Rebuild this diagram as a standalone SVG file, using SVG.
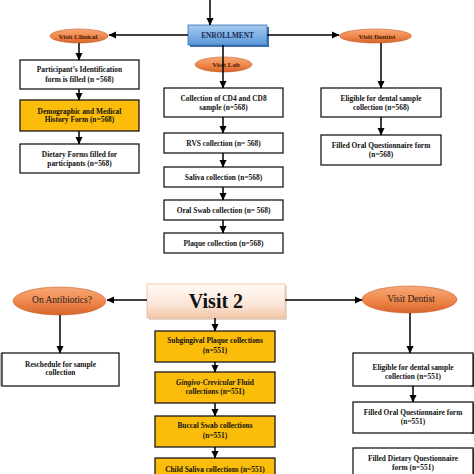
<svg xmlns="http://www.w3.org/2000/svg" width="474" height="474" viewBox="0 0 474 474">
<defs>
<linearGradient id="og" x1="0" y1="0" x2="0" y2="1"><stop offset="0" stop-color="#f9a878"/><stop offset="0.5" stop-color="#f08a4e"/><stop offset="1" stop-color="#d8642a"/></linearGradient>
<linearGradient id="bg" x1="0" y1="0" x2="0" y2="1"><stop offset="0" stop-color="#a6cbf0"/><stop offset="1" stop-color="#5b98d8"/></linearGradient>
<linearGradient id="pg" x1="0" y1="0" x2="0" y2="1"><stop offset="0" stop-color="#fffaf6"/><stop offset="0.6" stop-color="#fbe6d8"/><stop offset="1" stop-color="#f3c6a6"/></linearGradient>
<marker id="ah" markerWidth="8" markerHeight="8" refX="7" refY="4" orient="auto" markerUnits="userSpaceOnUse"><path d="M0,0.5 L7.5,4 L0,7.5 Z" fill="#000"/></marker>
</defs>
<style>
.box{fill:#fff;stroke:#1a1a1a;stroke-width:1.3}
.yel{fill:#fbbd0a}
.t{font-family:"Liberation Serif",serif;font-weight:bold;font-size:7.4px;text-anchor:middle;fill:#111}
.et{font-family:"Liberation Serif",serif;font-weight:bold;font-size:7px;text-anchor:middle;fill:#4a1a05}
.bt{font-family:"Liberation Serif",serif;font-size:9.5px;text-anchor:middle;fill:#222}
.ell{fill:url(#og);stroke:#c8622c;stroke-width:0.6}
.c{fill:none;stroke:#000;stroke-width:1.5;marker-end:url(#ah)}
</style>
<rect width="474" height="474" fill="#fff"/>

<g id="enrollment">
<rect x="190" y="27" width="79" height="20" fill="#3f6ea8"/>
<rect x="188" y="25" width="79" height="20" fill="url(#bg)" stroke="#3a72b5" stroke-width="0.8"/>
<text x="227.5" y="37.8" style="font-family:'Liberation Serif',serif;font-weight:bold;font-size:7.3px;text-anchor:middle;fill:#1a2a55">ENROLLMENT</text>
</g>
<g id="visit-clinical"><ellipse class="ell" cx="79" cy="36" rx="29" ry="7"/><text class="et" x="78" y="38.5">Visit Clinical</text></g>
<g id="visit-dentist"><ellipse class="ell" cx="375.5" cy="36" rx="36" ry="7"/><text class="et" x="377" y="38.5">Visit Dentist</text></g>
<g id="visit-lab"><ellipse class="ell" cx="223.5" cy="64.5" rx="28.5" ry="7.5"/><text class="et" x="226" y="66.5">Visit Lab</text></g>

<g id="participant"><rect class="box" x="20" y="60" width="119" height="29"/><text class="t" x="79.5" y="72">Participant’s Identification</text><text class="t" x="79.5" y="81.5">form is filled (n =568)</text></g>
<g id="demographic"><rect class="box yel" x="20" y="100" width="119" height="31"/><text class="t" x="79.5" y="113.5">Demographic and Medical</text><text class="t" x="79.5" y="122.3">History Form (n=568)</text></g>
<g id="dietary"><rect class="box" x="20" y="144" width="119" height="29"/><text class="t" x="79.5" y="156.5">Dietary Forms filled for</text><text class="t" x="79.5" y="165.8">participants (n=568)</text></g>

<g id="cd4"><rect class="box" x="164" y="88" width="119" height="29"/><text class="t" x="223.5" y="100.8">Collection of CD4 and CD8</text><text class="t" x="223.5" y="109.8">sample (n=568)</text></g>
<g id="rvs"><rect class="box" x="164" y="133" width="119" height="20"/><text class="t" x="223.5" y="146">RVS collection (n= 568)</text></g>
<g id="saliva"><rect class="box" x="164" y="167" width="119" height="20"/><text class="t" x="223.5" y="179.8">Saliva collection (n=568)</text></g>
<g id="oralswab"><rect class="box" x="164" y="200" width="119" height="20"/><text class="t" x="223.5" y="213">Oral Swab collection (n= 568)</text></g>
<g id="plaque"><rect class="box" x="164" y="233" width="119" height="20"/><text class="t" x="223.5" y="246.3">Plaque collection (n=568)</text></g>

<g id="eligible1"><rect class="box" x="321" y="88" width="120" height="29"/><text class="t" x="381" y="100.8">Eligible for dental sample</text><text class="t" x="381" y="109.8">collection (n=568)</text></g>
<g id="oralq1"><rect class="box" x="321" y="135" width="120" height="30"/><text class="t" x="381" y="147.5">Filled Oral Questionnaire form</text><text class="t" x="381" y="156.5">(n=568)</text></g>

<g id="visit2">
<rect x="149" y="286" width="138" height="34" fill="#d9c2b4" opacity="0.7"/>
<rect x="147" y="284" width="138" height="34" fill="url(#pg)" stroke="#e7bfa2" stroke-width="0.8"/>
<text x="216" y="308" style="font-family:'Liberation Serif',serif;font-weight:bold;font-size:20px;text-anchor:middle;fill:#111">Visit 2</text>
</g>
<g id="antibiotics"><ellipse class="ell" cx="59.5" cy="301" rx="46.5" ry="14"/><text class="bt" x="62" y="302.8">On Antibiotics?</text></g>
<g id="visit-dentist2"><ellipse class="ell" cx="409.5" cy="299.5" rx="47.5" ry="13.5"/><text class="bt" x="411" y="302.3">Visit Dentist</text></g>

<g id="reschedule"><rect x="0" y="353" width="3" height="33" fill="#bbb"/><rect class="box" x="2" y="353" width="117" height="33"/><text class="t" x="60.5" y="366.8">Reschedule for sample</text><text class="t" x="60.5" y="375.2">collection</text></g>

<g id="subgingival"><rect class="box yel" x="155" y="331" width="120" height="31"/><text class="t" x="215" y="343.2">Subgingival Plaque collections</text><text class="t" x="215" y="352.5">(n=551)</text></g>
<g id="gcf"><rect class="box yel" x="155" y="372" width="120" height="31"/><text class="t" x="215" y="384.8"><tspan font-style="italic">Gingivo-Crevicular</tspan> Fluid</text><text class="t" x="215" y="393.5">collections (n=551)</text></g>
<g id="buccal"><rect class="box yel" x="155" y="416" width="120" height="31"/><text class="t" x="215" y="428.2">Buccal Swab collections</text><text class="t" x="215" y="437.5">(n=551)</text></g>
<g id="childsaliva"><rect class="box yel" x="155" y="458" width="120" height="24"/><text class="t" x="215" y="471.5">Child Saliva collections (n=551)</text></g>

<g id="eligible2"><rect x="471" y="354" width="3" height="33" fill="#444"/><rect class="box" x="353" y="353" width="120" height="33"/><text class="t" x="413" y="370.2">Eligible for dental sample</text><text class="t" x="413" y="378.5">collection (n=551)</text></g>
<g id="oralq2"><rect x="471" y="403" width="3" height="31" fill="#444"/><rect class="box" x="353" y="402" width="120" height="31"/><text class="t" x="413" y="414.8">Filled Oral Questionnaire form</text><text class="t" x="413" y="424.2">(n=551)</text></g>
<g id="dietq2"><rect x="471" y="449" width="3" height="30" fill="#444"/><rect class="box" x="353" y="448" width="120" height="32"/><text class="t" x="413" y="460.8">Filled Dietary Questionnaire</text><text class="t" x="413" y="469.8">form (n=551)</text></g>

<g id="connectors">
<path class="c" d="M210 0 V25"/>
<path class="c" d="M188 35 H109"/>
<path class="c" d="M267 35 H339"/>
<path class="c" d="M79 43 V60"/>
<path class="c" d="M79 89 V100"/>
<path class="c" d="M79 131 V144"/>
<path class="c" d="M223 45 V88"/>
<path class="c" d="M223 117 V133"/>
<path class="c" d="M223 153 V167"/>
<path class="c" d="M223 187 V200"/>
<path class="c" d="M223 220 V233"/>
<path class="c" d="M381 43 V88"/>
<path class="c" d="M381 117 V135"/>
<path class="c" d="M147 300 H107"/>
<path class="c" d="M285 300 H362"/>
<path class="c" d="M60 315 V353"/>
<path class="c" d="M410 313 V353"/>
<path class="c" d="M413 386 V402"/>
<path class="c" d="M215 318 V331"/>
<path class="c" d="M215 362 V372"/>
<path class="c" d="M215 403 V416"/>
<path class="c" d="M215 447 V458"/>
</g>
</svg>
